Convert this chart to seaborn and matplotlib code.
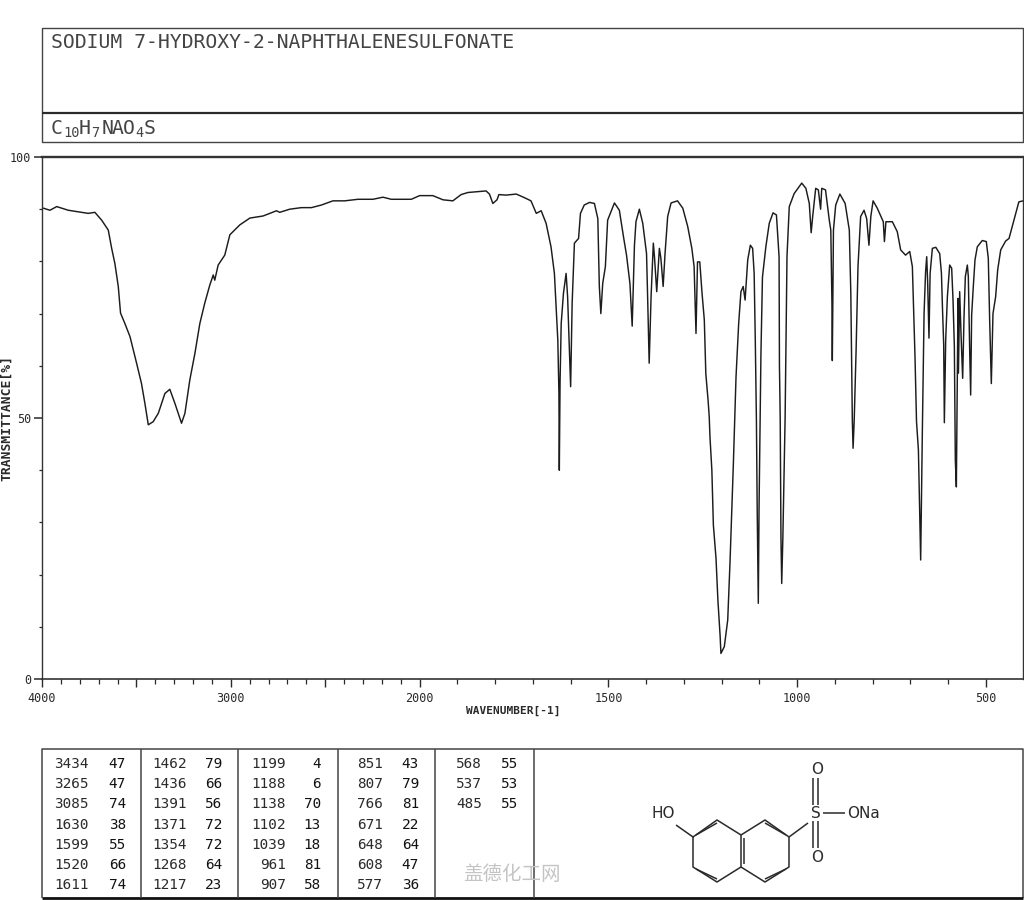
import numpy as np
import pandas as pd
import matplotlib
matplotlib.use("Agg")
import matplotlib.pyplot as plt
import seaborn as sns

# spectrum, split by region
oh_wn = [3993, 3958, 3922, 3861, 3808, 3755, 3720, 3684, 3649, 3631, 3614, 3596, 3584, 3561, 3534, 3499,
         3473, 3455, 3437, 3411, 3384, 3349, 3323, 3296, 3261, 3243, 3217, 3190, 3164, 3138, 3111, 3093,
         3085, 3067, 3032, 3005, 2952, 2899, 2829, 2794, 2758]
oh_t = [90.2, 89.8, 90.5, 89.8, 89.5, 89.2, 89.4, 87.9, 86.0, 82.5, 79.6, 75.2, 70.1, 68.1, 65.6, 60.5,
        56.6, 52.8, 48.7, 49.3, 50.9, 54.7, 55.5, 52.8, 49.0, 50.9, 57.3, 62.4, 68.1, 72.0, 75.5, 77.4,
        76.4, 79.3, 81.2, 85.1, 87.0, 88.3, 88.7, 89.2, 89.7]

base_wn = [2741, 2688, 2626, 2573, 2520, 2459, 2397, 2326, 2247, 2194, 2150, 2044, 2000, 1965, 1938, 1912,
           1890, 1872, 1841, 1824, 1815, 1806, 1795, 1790, 1771, 1744, 1722, 1705, 1691, 1678, 1665]
base_t = [89.4, 90.0, 90.3, 90.3, 90.8, 91.6, 91.6, 91.9, 91.9, 92.3, 91.9, 91.9, 92.6, 92.6, 91.8, 91.6,
          92.8, 93.2, 93.4, 93.5, 92.9, 91.1, 91.8, 92.8, 92.7, 92.9, 92.2, 91.6, 89.2, 89.7, 87.3]

mid_wn = [1652, 1643, 1639, 1634, 1631, 1630, 1628, 1625, 1619, 1612, 1608, 1603, 1600, 1596, 1590, 1579,
          1574, 1564, 1550, 1537, 1528, 1524, 1520, 1515, 1508, 1502, 1484, 1471, 1460, 1452, 1443, 1437,
          1431, 1427, 1418, 1409, 1399, 1396, 1392, 1387, 1381, 1378, 1372, 1365, 1361, 1355, 1350, 1343,
          1334, 1317, 1303, 1290, 1279, 1273, 1268, 1264, 1258, 1252, 1246, 1242, 1236]
mid_t = [82.8, 77.7, 72.0, 65.0, 54.7, 40.0, 57.0, 68.1, 73.9, 77.7, 73.2, 62.4, 56.0, 72.0, 83.5, 84.4,
         89.2, 90.8, 91.3, 91.1, 88.2, 75.2, 70.0, 75.8, 79.0, 87.9, 91.2, 89.8, 84.7, 81.2, 75.8, 67.6,
         83.1, 87.6, 90.0, 87.3, 81.5, 72.9, 60.5, 73.2, 83.5, 80.9, 74.2, 82.5, 80.6, 75.2, 81.5, 88.6,
         91.2, 91.6, 90.2, 86.7, 82.5, 79.0, 66.2, 79.9, 79.9, 73.9, 68.8, 58.5, 53.4]

sulfonate_wn = [1233, 1231, 1226, 1222, 1215, 1210, 1204, 1202, 1193, 1184, 1178, 1173, 1169, 1162, 1155, 1149,
                1143, 1138, 1131, 1124, 1118, 1114, 1111, 1108, 1106, 1103, 1101, 1098, 1096, 1092, 1083, 1074,
                1064, 1055, 1048, 1047, 1045, 1043, 1041, 1038, 1032, 1029, 1027, 1021, 1008, 988, 977, 968,
                963, 959, 951, 944, 938, 935, 925, 915, 911, 908, 907, 904, 898, 887, 873, 862]
sulfonate_t = [50.3, 46.4, 40.0, 29.5, 23.1, 15.1, 8.1, 4.9, 6.2, 11.3, 22.2, 33.0, 41.3, 57.9, 68.1, 74.2,
               75.2, 72.6, 80.3, 83.1, 82.5, 77.7, 65.0, 49.6, 33.0, 14.5, 33.0, 50.0, 62.4, 77.0, 82.8, 87.3,
               89.3, 88.9, 80.9, 60.0, 50.0, 27.0, 18.3, 27.0, 50.0, 68.0, 81.0, 90.5, 93.0, 95.0, 94.0, 91.1,
               85.5, 88.6, 94.0, 93.7, 90.0, 94.0, 93.7, 87.9, 86.0, 72.0, 61.0, 86.0, 90.8, 92.9, 91.1, 86.0]

finger_wn = [858, 856, 854, 852, 849, 844, 839, 832, 823, 816, 810, 805, 799, 788, 772, 769, 765, 748, 735, 726,
             713, 702, 695, 688, 684, 679, 675.5, 673, 670, 668.5, 664, 660, 657, 654.4, 651, 648, 642, 633,
             622.6, 618, 615.5, 612, 610.3, 606.7, 602.3, 596.2, 590.9, 587.3, 583.8, 581.2, 578.5, 575.9,
             574.1, 573, 569.7, 566.2, 561.8, 558.2, 554.7, 549.4, 546.8, 543.2, 540.6, 538, 533.6, 529.1,
             523, 509.8, 499.2, 493.9, 490.3, 485.9, 481.5, 474.5, 469, 461, 448, 439, 426, 413, 402]
finger_t = [73.9, 61.0, 49.6, 44.2, 49.6, 63.0, 79.0, 88.6, 89.8, 88.2, 83.1, 88.6, 91.6, 90.2, 87.6, 83.8, 87.6,
            87.6, 85.7, 82.2, 81.2, 81.9, 79.0, 61.7, 49.3, 43.9, 31.1, 22.8, 39.4, 47.7, 70.0, 78.0, 80.9, 75.8,
            65.3, 77.7, 82.5, 82.7, 81.5, 77.7, 71.6, 64.0, 49.1, 65.0, 73.2, 79.3, 78.7, 72.6, 63.7, 41.9, 36.8,
            58.6, 72.9, 58.6, 74.2, 66.2, 57.6, 69.4, 77.1, 79.3, 77.1, 63.0, 54.4, 69.7, 75.2, 80.3, 82.8, 84.0,
            83.8, 80.6, 68.8, 56.6, 70.0, 73.2, 78.4, 82.2, 83.9, 84.4, 87.9, 91.4, 91.6]

# 3500 and 2500 get the long tick but no label
x_major = [4000, 3500, 3000, 2500, 2000, 1500, 1000, 500]
x_labels = ["4000", "", "3000", "", "2000", "1500", "1000", "500"]
x_minor = [w for w in range(3900, 400, -100) if w not in x_major]
y_major = [0, 50, 100]
y_minor = [10, 20, 30, 40, 60, 70, 80, 90]

title_text = "SODIUM 7-HYDROXY-2-NAPHTHALENESULFONATE"
watermark = "盖德化工网"

# peak table, one list per printed column block
peaks_1 = [("3434", "47"), ("3265", "47"), ("3085", "74"), ("1630", "38"), ("1599", "55"), ("1520", "66"), ("1611", "74")]
peaks_2 = [("1462", "79"), ("1436", "66"), ("1391", "56"), ("1371", "72"), ("1354", "72"), ("1268", "64"), ("1217", "23")]
peaks_3 = [("1199", "4"), ("1188", "6"), ("1138", "70"), ("1102", "13"), ("1039", "18"), ("961", "81"), ("907", "58")]
peaks_4 = [("851", "43"), ("807", "79"), ("766", "81"), ("671", "22"), ("648", "64"), ("608", "47"), ("577", "36")]
peaks_5 = [("568", "55"), ("537", "53"), ("485", "55")]

sns.set_theme(style="white")
plt.rcParams['font.family'] = ['DejaVu Sans Mono', 'Noto Sans CJK SC']

INK = "#2a2a2a"
W, H = 1024, 900
fig = plt.figure(figsize=(W / 100, H / 100), dpi=100, facecolor="white")

# overlay in pixel units for the header boxes, table and structure drawing
pg = fig.add_axes([0, 0, 1, 1])
pg.set_xlim(0, W)
pg.set_ylim(H, 0)
pg.axis("off")


def seg(xs, ys, lw=1.2, color=INK):
    pg.plot(xs, ys, color=color, lw=lw, solid_capstyle="butt")


# header boxes
seg([42, 42, 1023, 1023, 42], [28, 142, 142, 28, 28], lw=1.0, color="#444444")
seg([42, 1023], [113, 113], lw=1.6)
pg.text(51, 43, title_text, fontsize=14.2, color="#444444", va="center", ha="left")
for s, x, y, fs in [("C", 51, 128, 14.2), ("10", 63.5, 133, 9.8), ("H", 79, 128, 14.2), ("7", 91.5, 133, 9.8),
                    ("N", 101.5, 128, 14.2), ("A", 112, 128, 14.2), ("O", 122.5, 128, 14.2),
                    ("4", 135, 133, 9.8), ("S", 143.5, 128, 14.2)]:
    pg.text(x, y, s, fontsize=fs, color="#444444", va="center", ha="left")

# peak table
seg([42, 42, 1023, 1023], [898, 749, 749, 898], lw=1.1, color="#444444")
seg([42, 1023], [898, 898], lw=2.0, color="#111111")
for vx in [141, 238, 337.5, 434.5, 534]:
    seg([vx, vx], [749, 898], lw=1.1, color="#444444")
blocks = [(peaks_1, 89, 126), (peaks_2, 187, 222.5), (peaks_3, 286, 321), (peaks_4, 383, 419), (peaks_5, 482, 518)]
for rows, xa, xb in blocks:
    for i, (wn, pct) in enumerate(rows):
        yy = 764 + i * 20.2
        pg.text(xa, yy, wn, fontsize=10.4, color=INK, ha="right", va="center")
        pg.text(xb, yy, pct, fontsize=10.4, color="#111111", ha="right", va="center")

# structure drawing
ring_l = [(693, 837), (717, 820), (741, 835), (741, 867), (717, 882), (693, 867), (693, 837)]
ring_r = [(741, 835), (765, 820), (789, 837), (789, 867), (765, 882), (741, 867)]
for ring in (ring_l, ring_r):
    seg([p[0] for p in ring], [p[1] for p in ring], lw=1.1)
for xs, ys in [([696, 717], [835, 823]), ([696, 717], [869, 879]), ([744, 744], [838, 864]),
               ([765, 786], [823, 835]), ([765, 786], [879, 869]),
               ([676, 693], [825, 837]), ([789, 808], [837, 823]), ([823, 845], [813, 813]),
               ([813, 813], [778, 805]), ([817.5, 817.5], [778, 805]),
               ([813, 813], [821, 848]), ([817.5, 817.5], [821, 848])]:
    seg(xs, ys, lw=1.1)
for s, x, y in [("HO", 663, 813), ("S", 816, 813), ("ONa", 864, 813), ("O", 817.5, 769), ("O", 817.5, 857)]:
    pg.text(x, y, s, fontsize=11, family="DejaVu Sans", color=INK, ha="center", va="center")

pg.text(512, 875, watermark, fontsize=14, family=["Noto Sans CJK SC"], color="#c4c4c4", ha="center", va="center")

# spectrum axes
ax = fig.add_axes([42 / W, 1 - 679 / H, 981 / W, 522 / H])
ax.patch.set_alpha(0)

df = pd.DataFrame({
    "wavenumber": oh_wn + base_wn + mid_wn + sulfonate_wn + finger_wn,
    "transmittance": oh_t + base_t + mid_t + sulfonate_t + finger_t,
})
sns.lineplot(data=df, x="wavenumber", y="transmittance", sort=False, estimator=None,
             color="#1c1c1c", lw=1.05, ax=ax)


# the instrument doubles the scale below 2000 cm-1
def to_pos(w):
    w = np.asarray(w, dtype=float)
    return np.where(w >= 2000, (w - 2000) * 0.189, (w - 2000) * 0.378)


def from_pos(p):
    p = np.asarray(p, dtype=float)
    return np.where(p >= 0, 2000 + p / 0.189, 2000 + p / 0.378)


ax.set_xscale("function", functions=(to_pos, from_pos))
ax.set_xlim(4000, 402)
ax.set_ylim(0, 100)

ax.set_xticks(x_major)
ax.set_xticks(x_minor, minor=True)
ax.set_yticks(y_major)
ax.set_yticks(y_minor, minor=True)
ax.set_xticklabels(x_labels)
ax.set_yticklabels([str(v) for v in y_major])
ax.tick_params(axis="x", which="major", length=5.8, width=1.0, color=INK, direction="out",
               labelsize=8.5, labelcolor=INK, pad=3.5, bottom=True)
ax.tick_params(axis="x", which="minor", length=3.4, width=0.9, color=INK, direction="out", bottom=True)
ax.tick_params(axis="y", which="major", length=5.8, width=1.1, color=INK, direction="out",
               labelsize=8.5, labelcolor=INK, pad=2, left=True)
ax.tick_params(axis="y", which="minor", length=2.2, width=0.9, color=INK, direction="out", left=True)

ax.set_xlabel("WAVENUMBER[-1]", fontsize=8.0, fontweight="bold", color=INK)
ax.xaxis.set_label_coords((513 - 42) / 981, -(711 - 679) / 522, transform=ax.transAxes)
ax.xaxis.label.set_va("center")
ax.set_ylabel("TRANSMITTANCE[%]", fontsize=9.4, fontweight="bold", color=INK)
ax.yaxis.set_label_coords((7 - 42) / 981, 0.5, transform=ax.transAxes)
ax.yaxis.label.set_va("center")

for name, sp in ax.spines.items():
    sp.set_visible(True)
    sp.set_color("#333333")
    sp.set_linewidth(1.0)
ax.spines["top"].set_linewidth(1.7)
ax.spines["bottom"].set_linewidth(1.2)

fig.savefig("out.png", dpi=100, facecolor="white")
